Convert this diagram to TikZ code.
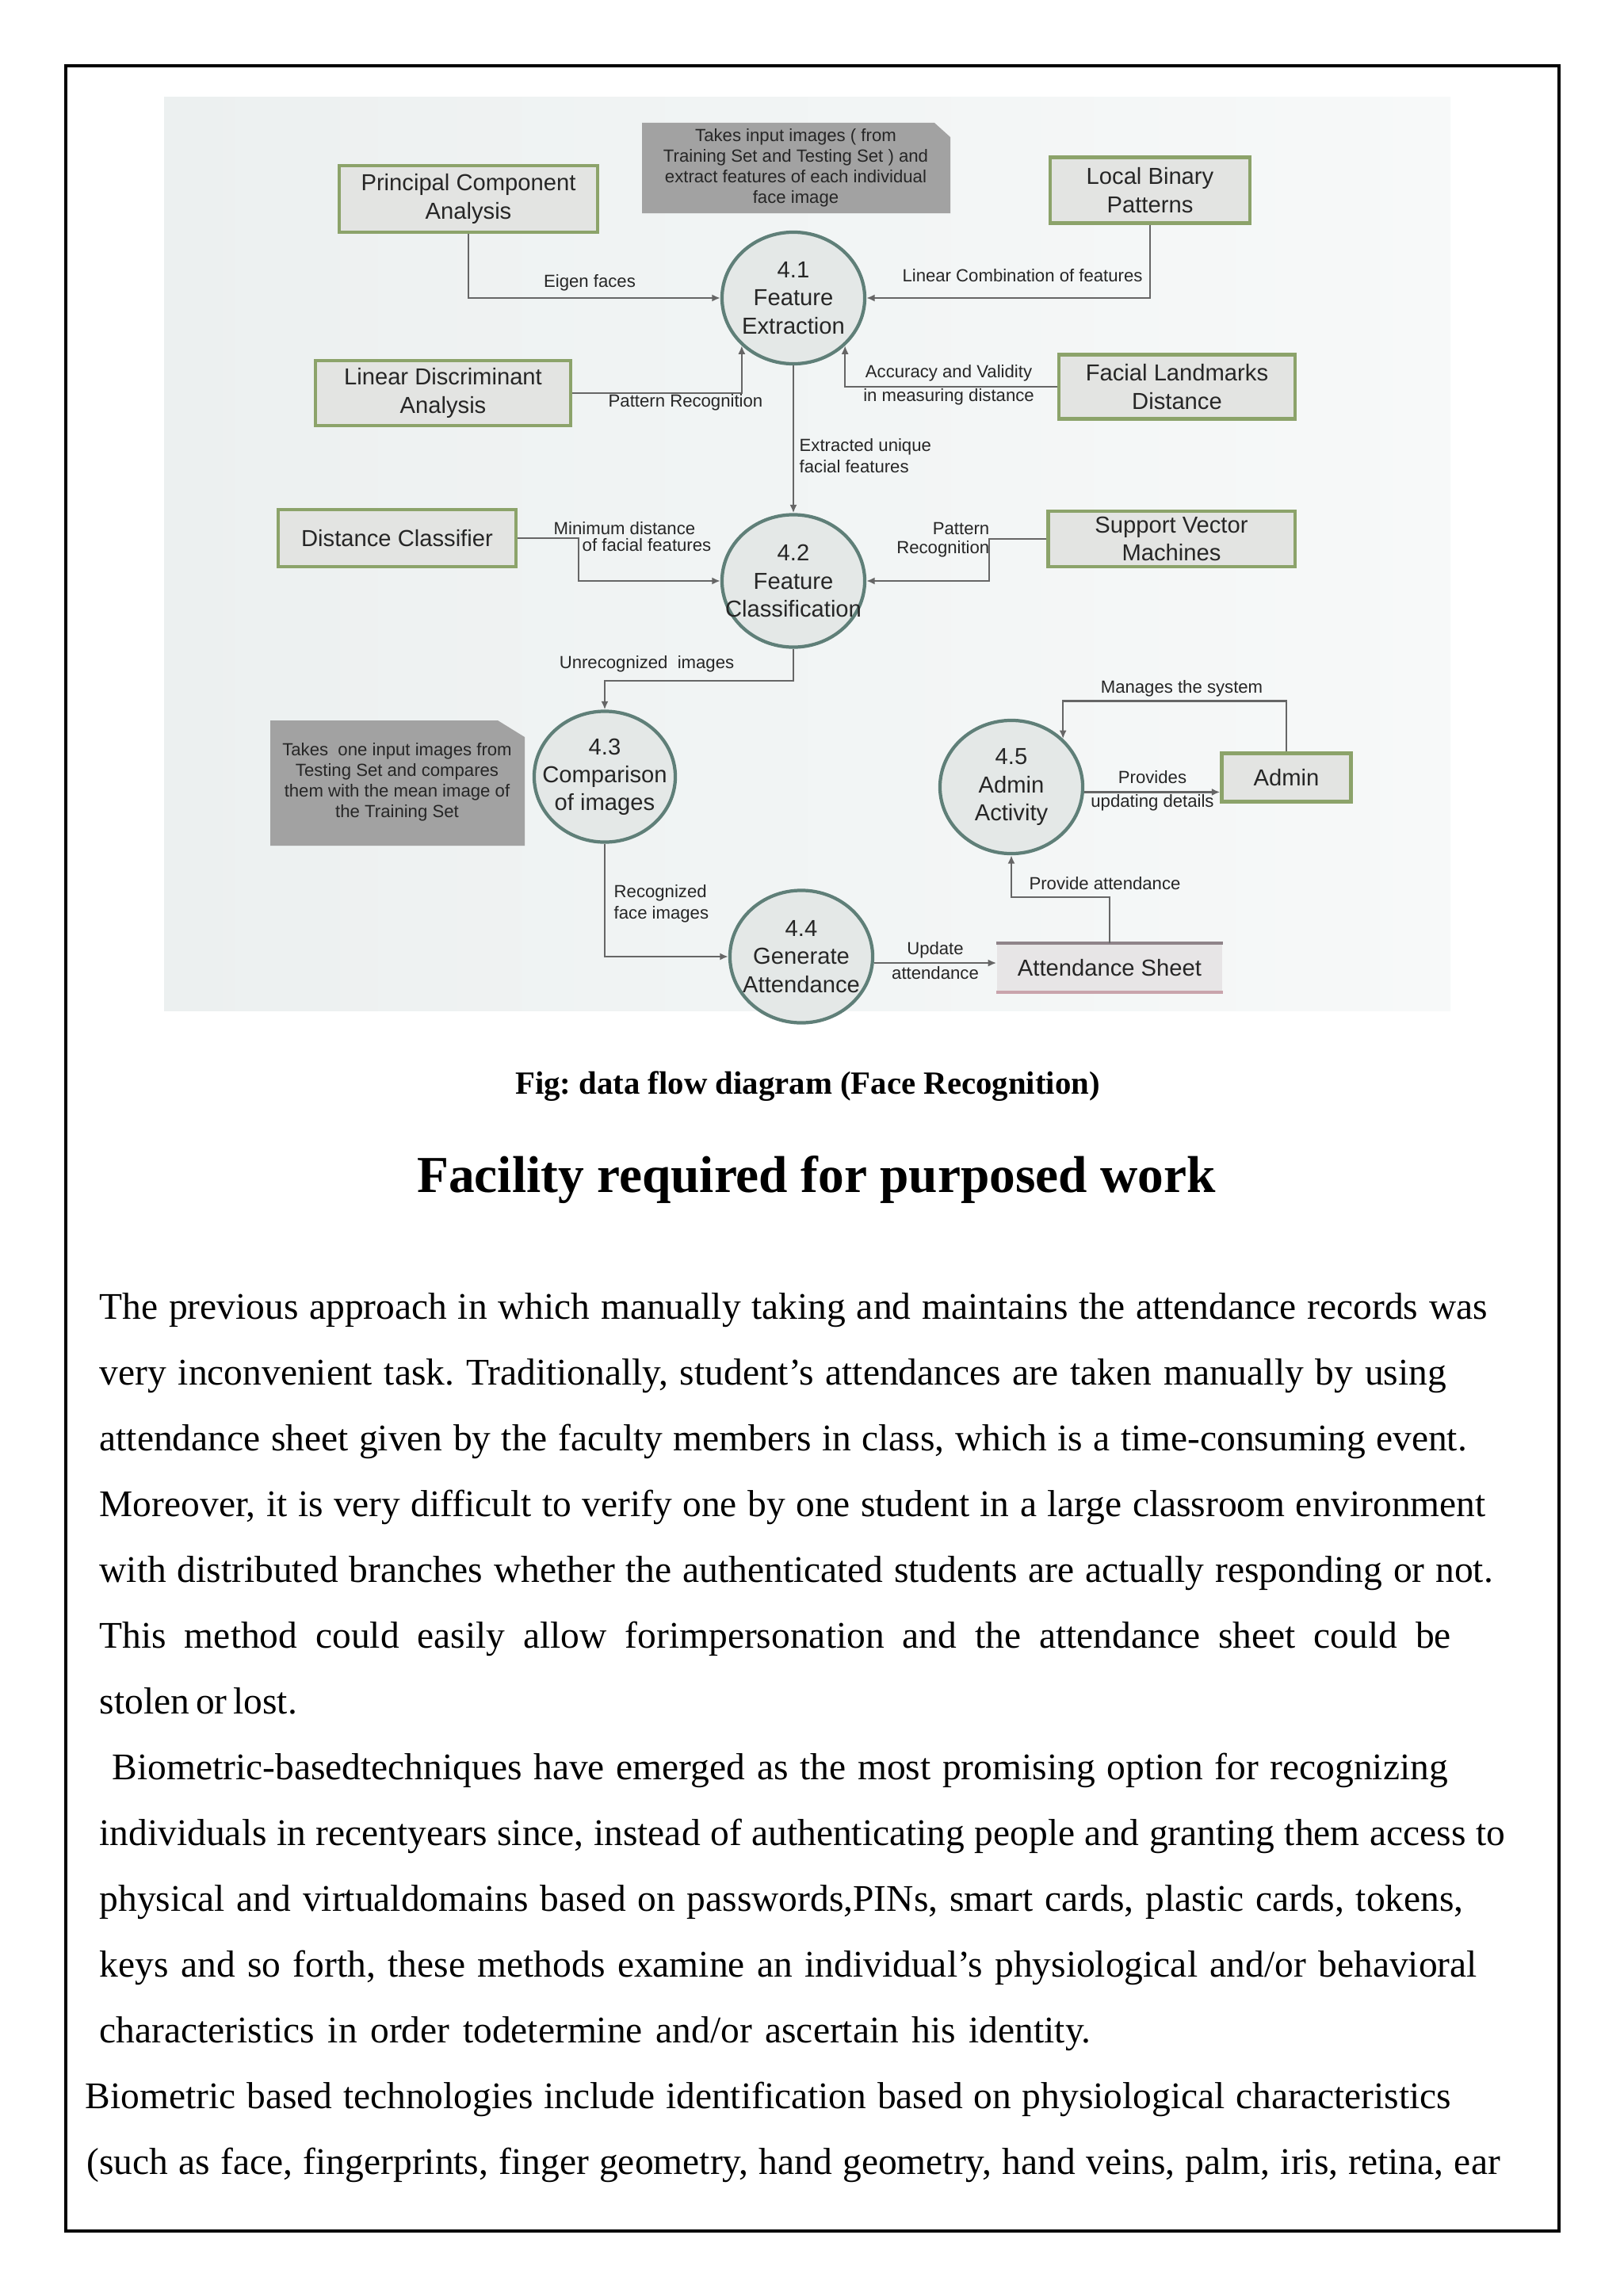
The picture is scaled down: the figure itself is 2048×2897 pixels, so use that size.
\documentclass[tikz,border=0pt]{standalone}
\usepackage{fontspec}
\setmainfont{Liberation Serif}
\newfontfamily\diagfont{Liberation Sans}
\usetikzlibrary{shapes.geometric,arrows.meta}

\definecolor{boxgreen}{HTML}{8CA36A}
\definecolor{boxfill}{HTML}{E3E4E2}
\definecolor{circedge}{HTML}{5F7F78}
\definecolor{circfill}{HTML}{E4E8E7}
\definecolor{notegray}{HTML}{A2A2A2}
\definecolor{flowgray}{HTML}{666666}
\definecolor{diagtext}{HTML}{262626}
\definecolor{storefill}{HTML}{E7E5E6}
\definecolor{storetop}{HTML}{8F8489}
\definecolor{storebot}{HTML}{C9A4AC}

\tikzset{
    entity/.style={draw=boxgreen, line width=1.2pt, fill=boxfill, text=diagtext,
        font=\diagfont\fontsize{8.3}{10}\selectfont, align=center, inner sep=0pt},
    process/.style={ellipse, draw=circedge, line width=1.2pt, fill=circfill, inner sep=0pt},
    proclabel/.style={text=diagtext, font=\diagfont\fontsize{8.3}{10}\selectfont, align=center, inner sep=0pt},
    flow/.style={draw=flowgray, line width=0.65pt, -{Latex[length=3pt,width=2.6pt]}},
    flowlabel/.style={text=diagtext, font=\diagfont\fontsize{6.3}{8.6}\selectfont, align=center, inner sep=0pt},
    notetext/.style={text=diagtext, font=\diagfont\fontsize{6.3}{7.4}\selectfont, align=center, inner sep=0pt},
    bodytext/.style={font=\fontsize{13.5}{15}\selectfont, anchor=base west, inner sep=0pt},
}

\begin{document}
\frenchspacing
\begin{tikzpicture}[x=0.01cm, y=-0.01cm]
    \useasboundingbox (0,0) rectangle (2048,2897);
    \fill[white] (0,0) rectangle (2048,2897);
    \draw[line width=1pt] (83,83) rectangle (1967,2815);

    % diagram background
    \shade[left color={rgb,255:red,236;green,240;blue,240}, right color={rgb,255:red,247;green,249;blue,249}] (207,123) rectangle (1830,1275);

    % notes
    \fill[notegray] (810,155) -- (1179,155) -- (1199,173) -- (1199,269) -- (810,269) -- cycle;
    \node[notetext] (note1) at (1004,212) {Takes input images ( from\\Training Set and Testing Set ) and\\extract features of each individual\\face image};
    \fill[notegray] (341,909) -- (628,909) -- (662,930) -- (662,1067) -- (341,1067) -- cycle;
    \node[notetext] (note2) at (501,987) {Takes\ \ one input images from\\Testing Set and compares\\them with the mean image of\\the Training Set};

    % external entities
    \node[entity, minimum width=3.26cm, minimum height=0.84cm] (pca) at (591,251) {Principal Component\\Analysis};
    \node[entity, minimum width=3.22cm, minimum height=0.82cm] (lda) at (559,496) {Linear Discriminant\\Analysis};
    \node[entity, minimum width=2.52cm, minimum height=0.83cm] (lbp) at (1451,240) {Local Binary\\Patterns};
    \node[entity, minimum width=2.98cm, minimum height=0.81cm] (fld) at (1485,488) {Facial Landmarks\\Distance};
    \node[entity, minimum width=3.00cm, minimum height=0.72cm] (dcl) at (501,679) {Distance Classifier};
    \node[entity, minimum width=3.11cm, minimum height=0.70cm] (svm) at (1478,680) {Support Vector\\Machines};
    \node[entity, minimum width=1.63cm, minimum height=0.61cm] (admin) at (1623,981) {Admin};

    % processes
    \node[process, minimum width=1.80cm, minimum height=1.66cm, label={[proclabel]center:{4.1\\Feature\\Extraction}}] (p41) at (1001,376) {};
    \node[process, minimum width=1.80cm, minimum height=1.67cm, label={[proclabel]center:{4.2\\Feature\\Classification}}] (p42) at (1001,733) {};
    \node[process, minimum width=1.78cm, minimum height=1.65cm, label={[proclabel]center:{4.3\\Comparison\\of images}}] (p43) at (763,980) {};
    \node[process, minimum width=1.80cm, minimum height=1.67cm, label={[proclabel]center:{4.4\\Generate\\Attendance}}] (p44) at (1011,1207) {};
    \node[process, minimum width=1.80cm, minimum height=1.68cm, label={[proclabel]center:{4.5\\Admin\\Activity}}] (p45) at (1276,993) {};

    % data store
    \node[fill=storefill, minimum width=2.84cm, minimum height=0.60cm, inner sep=0pt, text=diagtext,
        font=\diagfont\fontsize{8.3}{10}\selectfont] (sheet) at (1400,1221) {Attendance Sheet};
    \draw[storetop, line width=1.1pt] (sheet.north west) -- (sheet.north east);
    \draw[storebot, line width=1.1pt] (sheet.south west) -- (sheet.south east);

    % flows
    \draw[flow] (pca.south) |- (p41.west);
    \draw[flow] (lbp.south) |- (p41.east);
    \draw[flow] (lda.east) -| (p41.south west);
    \draw[flow] (fld.west) -| (p41.south east);
    \draw[flow] (p41.south) -- (p42.north);
    \draw[flow] (dcl.east) -- ++(77,0) |- (p42.west);
    \draw[flow] (svm.west) -- ++(-72,0) |- (p42.east);
    \draw[flow] (p42.south) -- ++(0,40) -| (p43.north);
    \draw[flow] (p43.south) |- (p44.west);
    \draw[flow] (p44.-5) -- (p44.-5 -| sheet.west);
    \draw[flow] (sheet.north) -- ++(0,-58) -| (p45.south);
    \draw[flow] (p45.-4) -- (p45.-4 -| admin.west);
    \draw[flow] (admin.north) -- ++(0,-64) -| (p45.north east);

    % flow labels
    \node[flowlabel] (lbeigen) at (744,357) {Eigen faces};
    \node[flowlabel] (lblinear) at (1290,348) {Linear Combination of features};
    \node[flowlabel] (lbpattern) at (865,508) {Pattern Recognition};
    \node[flowlabel] (lbaccuracy) at (1197,486) {Accuracy and Validity\\in measuring distance};
    \node[flowlabel, anchor=west, align=left, font=\diagfont\fontsize{6.3}{7.6}\selectfont] (lbextract) at (1008,575) {Extracted unique\\facial features};
    \node[flowlabel, anchor=west, align=left, font=\diagfont\fontsize{6.3}{6.2}\selectfont] (lbminimum) at (698,677) {Minimum distance\\\hspace*{0.36cm}of facial features};
    \node[flowlabel, anchor=east, align=right, font=\diagfont\fontsize{6.3}{6.9}\selectfont] (lbsvm) at (1249,681) {Pattern\\Recognition};
    \node[flowlabel] (lbunrec) at (816,838) {Unrecognized\ \ images};
    \node[flowlabel, anchor=west, align=left, font=\diagfont\fontsize{6.3}{7.6}\selectfont] (lbrecog) at (774,1140) {Recognized\\face images};
    \node[flowlabel] (lbupdate) at (1180,1212) {Update\\attendance};
    \node[flowlabel] (lbprovide) at (1394,1115) {Provide attendance};
    \node[flowlabel] (lbdetails) at (1454,998) {Provides\\updating details};
    \node[flowlabel] (lbmanage) at (1491,869) {Manages the system};

    % caption and heading
    \node[inner sep=0pt, font=\bfseries\fontsize{11.6}{14}\selectfont] (caption) at (1019,1371) {Fig: data flow diagram (Face Recognition)};
    \node[inner sep=0pt, font=\bfseries\fontsize{18.6}{22}\selectfont] (heading) at (1030,1489) {Facility required for purposed work};

    % body text
    \node[bodytext] (line1) at (125,1664) {\makebox[17.50cm][s]{The previous approach in which manually taking and maintains the attendance records was}};
    \node[bodytext] (line2) at (125,1747) {\makebox[16.98cm][s]{very inconvenient task. Traditionally, student’s attendances are taken manually by using}};
    \node[bodytext] (line3) at (125,1830) {\makebox[17.24cm][s]{attendance sheet given by the faculty members in class, which is a time-consuming event.}};
    \node[bodytext] (line4) at (125,1913) {\makebox[17.48cm][s]{Moreover, it is very difficult to verify one by one student in a large classroom environment}};
    \node[bodytext] (line5) at (125,1996) {\makebox[17.57cm][s]{with distributed branches whether the authenticated students are actually responding or not.}};
    \node[bodytext] (line6) at (125,2079) {\makebox[17.04cm][s]{This method could easily allow forimpersonation and the attendance sheet could be}};
    \node[bodytext] (line7) at (125,2162) {\makebox[2.26cm][s]{stolen or lost.}};
    \node[bodytext] (line8) at (141,2245) {\makebox[16.84cm][s]{Biometric-basedtechniques have emerged as the most promising option for recognizing}};
    \node[bodytext] (line9) at (125,2328) {\makebox[17.72cm][s]{individuals in recentyears since, instead of authenticating people and granting them access to}};
    \node[bodytext] (line10) at (125,2411) {\makebox[17.20cm][s]{physical and virtualdomains based on passwords,PINs, smart cards, plastic cards, tokens,}};
    \node[bodytext] (line11) at (125,2494) {\makebox[17.37cm][s]{keys and so forth, these methods examine an individual’s physiological and/or behavioral}};
    \node[bodytext] (line12) at (125,2577) {\makebox[12.50cm][s]{characteristics in order todetermine and/or ascertain his identity.}};
    \node[bodytext] (line13) at (107,2660) {\makebox[17.22cm][s]{Biometric based technologies include identification based on physiological characteristics}};
    \node[bodytext] (line14) at (109,2743) {\makebox[17.82cm][s]{(such as face, fingerprints, finger geometry, hand geometry, hand veins, palm, iris, retina, ear}};
\end{tikzpicture}
\end{document}
